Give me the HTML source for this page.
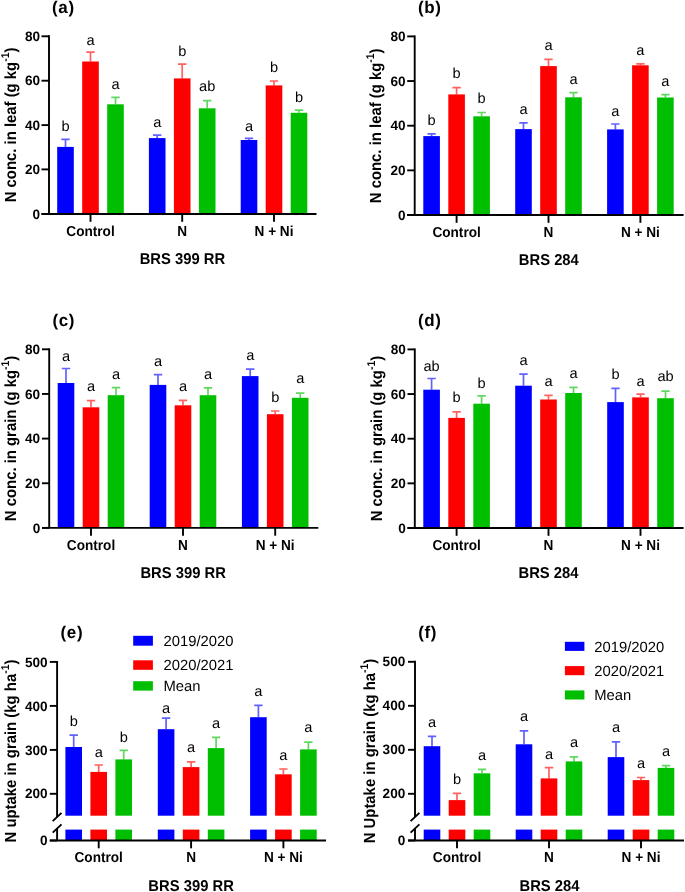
<!DOCTYPE html>
<html><head><meta charset="utf-8"><title>Figure</title>
<style>
html,body{margin:0;padding:0;background:#fff;}
body{width:685px;height:892px;overflow:hidden;}
svg{display:block;}
text{font-family:'Liberation Sans', Arial, sans-serif;fill:#000;text-rendering:geometricPrecision;}
.ax{stroke:#000;stroke-width:1.9;fill:none;stroke-linecap:butt;}
.let{font-size:14.6px;text-anchor:middle;}
.tk{font-size:13.6px;font-weight:bold;text-anchor:end;}
.xl{font-size:13.6px;font-weight:bold;text-anchor:middle;}
.sub{font-size:14.8px;font-weight:bold;text-anchor:middle;}
.ttl{font-size:17.0px;font-weight:bold;letter-spacing:0.6px;}
.yl{font-size:15.0px;font-weight:bold;text-anchor:middle;text-rendering:geometricPrecision;}
.sup{font-size:10.5px;}
.lg{font-size:14.8px;}
</style></head>
<body><svg width="685" height="892" viewBox="0 0 685 892">
<rect width="685" height="892" fill="#fff"/>
<g>
<rect x="57.2" y="146.9" width="16.6" height="67.1" fill="#0000ff"/>
<path d="M65.5 146.9V139.3M61.3 139.3H69.7" stroke="#0000ff" stroke-width="1.7" stroke-opacity="0.62" fill="none"/>
<text x="65.5" y="131" class="let">b</text>
<rect x="82.2" y="61.5" width="16.6" height="152.5" fill="#ff0000"/>
<path d="M90.5 61.5V52.2M86.3 52.2H94.7" stroke="#ff0000" stroke-width="1.7" stroke-opacity="0.62" fill="none"/>
<text x="90.5" y="44.6" class="let">a</text>
<rect x="107.2" y="104.3" width="16.6" height="109.7" fill="#00bf00"/>
<path d="M115.5 104.3V97.3M111.3 97.3H119.7" stroke="#00bf00" stroke-width="1.7" stroke-opacity="0.62" fill="none"/>
<text x="115.5" y="88.6" class="let">a</text>
<rect x="148.9" y="138.1" width="16.6" height="75.9" fill="#0000ff"/>
<path d="M157.2 138.1V135.2M153 135.2H161.4" stroke="#0000ff" stroke-width="1.7" stroke-opacity="0.62" fill="none"/>
<text x="157.2" y="126.9" class="let">a</text>
<rect x="173.9" y="78.4" width="16.6" height="135.6" fill="#ff0000"/>
<path d="M182.2 78.4V64.2M178 64.2H186.4" stroke="#ff0000" stroke-width="1.7" stroke-opacity="0.62" fill="none"/>
<text x="182.2" y="55.9" class="let">b</text>
<rect x="198.9" y="108.3" width="16.6" height="105.7" fill="#00bf00"/>
<path d="M207.2 108.3V100.7M203 100.7H211.4" stroke="#00bf00" stroke-width="1.7" stroke-opacity="0.62" fill="none"/>
<text x="207.2" y="90.9" class="let">ab</text>
<rect x="240.7" y="140" width="16.6" height="74" fill="#0000ff"/>
<path d="M249 140V138.3M244.8 138.3H253.2" stroke="#0000ff" stroke-width="1.7" stroke-opacity="0.62" fill="none"/>
<text x="249" y="131.3" class="let">a</text>
<rect x="265.7" y="85.4" width="16.6" height="128.6" fill="#ff0000"/>
<path d="M274 85.4V81M269.8 81H278.2" stroke="#ff0000" stroke-width="1.7" stroke-opacity="0.62" fill="none"/>
<text x="274" y="72" class="let">b</text>
<rect x="290.7" y="112.8" width="16.6" height="101.2" fill="#00bf00"/>
<path d="M299 112.8V110.2M294.8 110.2H303.2" stroke="#00bf00" stroke-width="1.7" stroke-opacity="0.62" fill="none"/>
<text x="299" y="101.7" class="let">b</text>
<path d="M49 35.35V214" class="ax"/>
<path d="M41.5 214H316.5" class="ax"/>
<path d="M41.5 36.3H49" class="ax"/>
<text x="40" y="40.9" class="tk">80</text>
<path d="M41.5 80.7H49" class="ax"/>
<text x="40" y="85.3" class="tk">60</text>
<path d="M41.5 125.1H49" class="ax"/>
<text x="40" y="129.7" class="tk">40</text>
<path d="M41.5 169.4H49" class="ax"/>
<text x="40" y="174" class="tk">20</text>
<path d="M41.5 214H49" class="ax"/>
<text x="40" y="218.6" class="tk">0</text>
<path d="M90.5 214V221.8" class="ax"/>
<text transform="translate(90.5 235.8) scale(1 1.06)" class="xl">Control</text>
<path d="M182.2 214V221.8" class="ax"/>
<text transform="translate(182.2 235.8) scale(1 1.06)" class="xl">N</text>
<path d="M274 214V221.8" class="ax"/>
<text transform="translate(274 235.8) scale(1 1.06)" class="xl">N + Ni</text>
<text transform="translate(182.4 263.7) scale(1 1.06)" class="sub">BRS 399 RR</text>
<text x="52.1" y="12.7" class="ttl">(a)</text>
<text transform="translate(15.8 124.95) rotate(-90) scale(0.992 1.07)" x="0" y="0" class="yl">N conc. in leaf (g kg<tspan class="sup" dy="-6.3">-1</tspan><tspan dy="6.3">)</tspan></text>
</g>
<g>
<rect x="423.3" y="136.1" width="16.6" height="78.9" fill="#0000ff"/>
<path d="M431.6 136.1V133.9M427.4 133.9H435.8" stroke="#0000ff" stroke-width="1.7" stroke-opacity="0.62" fill="none"/>
<text x="431.6" y="124.7" class="let">b</text>
<rect x="448.3" y="94.4" width="16.6" height="120.6" fill="#ff0000"/>
<path d="M456.6 94.4V87.6M452.4 87.6H460.8" stroke="#ff0000" stroke-width="1.7" stroke-opacity="0.62" fill="none"/>
<text x="456.6" y="77.8" class="let">b</text>
<rect x="473.3" y="116.3" width="16.6" height="98.7" fill="#00bf00"/>
<path d="M481.6 116.3V112.5M477.4 112.5H485.8" stroke="#00bf00" stroke-width="1.7" stroke-opacity="0.62" fill="none"/>
<text x="481.6" y="102.9" class="let">b</text>
<rect x="515.2" y="129.1" width="16.6" height="85.9" fill="#0000ff"/>
<path d="M523.5 129.1V122.8M519.3 122.8H527.7" stroke="#0000ff" stroke-width="1.7" stroke-opacity="0.62" fill="none"/>
<text x="523.5" y="114.2" class="let">a</text>
<rect x="540.2" y="66.1" width="16.6" height="148.9" fill="#ff0000"/>
<path d="M548.5 66.1V59.4M544.3 59.4H552.7" stroke="#ff0000" stroke-width="1.7" stroke-opacity="0.62" fill="none"/>
<text x="548.5" y="50.4" class="let">a</text>
<rect x="565.2" y="97.3" width="16.6" height="117.7" fill="#00bf00"/>
<path d="M573.5 97.3V92.7M569.3 92.7H577.7" stroke="#00bf00" stroke-width="1.7" stroke-opacity="0.62" fill="none"/>
<text x="573.5" y="83.9" class="let">a</text>
<rect x="607.1" y="129.4" width="16.6" height="85.6" fill="#0000ff"/>
<path d="M615.4 129.4V124M611.2 124H619.6" stroke="#0000ff" stroke-width="1.7" stroke-opacity="0.62" fill="none"/>
<text x="615.4" y="115.7" class="let">a</text>
<rect x="632.1" y="65.3" width="16.6" height="149.7" fill="#ff0000"/>
<path d="M640.4 65.3V63.8M636.2 63.8H644.6" stroke="#ff0000" stroke-width="1.7" stroke-opacity="0.62" fill="none"/>
<text x="640.4" y="54.5" class="let">a</text>
<rect x="657.1" y="97.5" width="16.6" height="117.5" fill="#00bf00"/>
<path d="M665.4 97.5V94.6M661.2 94.6H669.6" stroke="#00bf00" stroke-width="1.7" stroke-opacity="0.62" fill="none"/>
<text x="665.4" y="85.7" class="let">a</text>
<path d="M414.7 35.45V215" class="ax"/>
<path d="M407.2 215H683.6" class="ax"/>
<path d="M407.2 36.4H414.7" class="ax"/>
<text x="405.6" y="41" class="tk">80</text>
<path d="M407.2 81.05H414.7" class="ax"/>
<text x="405.6" y="85.65" class="tk">60</text>
<path d="M407.2 125.7H414.7" class="ax"/>
<text x="405.6" y="130.3" class="tk">40</text>
<path d="M407.2 170.35H414.7" class="ax"/>
<text x="405.6" y="174.95" class="tk">20</text>
<path d="M407.2 215H414.7" class="ax"/>
<text x="405.6" y="219.6" class="tk">0</text>
<path d="M456.6 215V222.8" class="ax"/>
<text transform="translate(456.6 237) scale(1 1.06)" class="xl">Control</text>
<path d="M548.5 215V222.8" class="ax"/>
<text transform="translate(548.5 237) scale(1 1.06)" class="xl">N</text>
<path d="M640.4 215V222.8" class="ax"/>
<text transform="translate(640.4 237) scale(1 1.06)" class="xl">N + Ni</text>
<text transform="translate(548.8 265) scale(1 1.06)" class="sub">BRS 284</text>
<text x="417.9" y="12.7" class="ttl">(b)</text>
<text transform="translate(381.2 125.85) rotate(-90) scale(0.992 1.07)" x="0" y="0" class="yl">N conc. in leaf (g kg<tspan class="sup" dy="-6.3">-1</tspan><tspan dy="6.3">)</tspan></text>
</g>
<g>
<rect x="57.7" y="383" width="16.6" height="144.9" fill="#0000ff"/>
<path d="M66 383V368.5M61.8 368.5H70.2" stroke="#0000ff" stroke-width="1.7" stroke-opacity="0.62" fill="none"/>
<text x="66" y="360.8" class="let">a</text>
<rect x="82.7" y="407.3" width="16.6" height="120.6" fill="#ff0000"/>
<path d="M91 407.3V400.7M86.8 400.7H95.2" stroke="#ff0000" stroke-width="1.7" stroke-opacity="0.62" fill="none"/>
<text x="91" y="391.2" class="let">a</text>
<rect x="107.7" y="395.2" width="16.6" height="132.7" fill="#00bf00"/>
<path d="M116 395.2V387.6M111.8 387.6H120.2" stroke="#00bf00" stroke-width="1.7" stroke-opacity="0.62" fill="none"/>
<text x="116" y="379" class="let">a</text>
<rect x="149.7" y="384.9" width="16.6" height="143" fill="#0000ff"/>
<path d="M158 384.9V374.6M153.8 374.6H162.2" stroke="#0000ff" stroke-width="1.7" stroke-opacity="0.62" fill="none"/>
<text x="158" y="365.6" class="let">a</text>
<rect x="174.7" y="405.3" width="16.6" height="122.6" fill="#ff0000"/>
<path d="M183 405.3V400.4M178.8 400.4H187.2" stroke="#ff0000" stroke-width="1.7" stroke-opacity="0.62" fill="none"/>
<text x="183" y="391.2" class="let">a</text>
<rect x="199.7" y="395.2" width="16.6" height="132.7" fill="#00bf00"/>
<path d="M208 395.2V387.8M203.8 387.8H212.2" stroke="#00bf00" stroke-width="1.7" stroke-opacity="0.62" fill="none"/>
<text x="208" y="379" class="let">a</text>
<rect x="241.9" y="376.1" width="16.6" height="151.8" fill="#0000ff"/>
<path d="M250.2 376.1V369.2M246 369.2H254.4" stroke="#0000ff" stroke-width="1.7" stroke-opacity="0.62" fill="none"/>
<text x="250.2" y="360.1" class="let">a</text>
<rect x="266.9" y="414.2" width="16.6" height="113.7" fill="#ff0000"/>
<path d="M275.2 414.2V411M271 411H279.4" stroke="#ff0000" stroke-width="1.7" stroke-opacity="0.62" fill="none"/>
<text x="275.2" y="401.8" class="let">b</text>
<rect x="291.9" y="397.8" width="16.6" height="130.1" fill="#00bf00"/>
<path d="M300.2 397.8V393.2M296 393.2H304.4" stroke="#00bf00" stroke-width="1.7" stroke-opacity="0.62" fill="none"/>
<text x="300.2" y="383.4" class="let">a</text>
<path d="M49.2 348.35V527.9" class="ax"/>
<path d="M42 527.9H318.3" class="ax"/>
<path d="M42 349.3H49.2" class="ax"/>
<text x="40.2" y="353.9" class="tk">80</text>
<path d="M42 393.95H49.2" class="ax"/>
<text x="40.2" y="398.55" class="tk">60</text>
<path d="M42 438.6H49.2" class="ax"/>
<text x="40.2" y="443.2" class="tk">40</text>
<path d="M42 483.25H49.2" class="ax"/>
<text x="40.2" y="487.85" class="tk">20</text>
<path d="M42 527.9H49.2" class="ax"/>
<text x="40.2" y="532.5" class="tk">0</text>
<path d="M91 527.9V535.7" class="ax"/>
<text transform="translate(91 549.7) scale(1 1.06)" class="xl">Control</text>
<path d="M183 527.9V535.7" class="ax"/>
<text transform="translate(183 549.7) scale(1 1.06)" class="xl">N</text>
<path d="M275.2 527.9V535.7" class="ax"/>
<text transform="translate(275.2 549.7) scale(1 1.06)" class="xl">N + Ni</text>
<text transform="translate(183.2 578) scale(1 1.06)" class="sub">BRS 399 RR</text>
<text x="52.4" y="325.5" class="ttl">(c)</text>
<text transform="translate(16.1 438.45) rotate(-90) scale(0.992 1.07)" x="0" y="0" class="yl">N conc. in grain (g kg<tspan class="sup" dy="-6.3">-1</tspan><tspan dy="6.3">)</tspan></text>
</g>
<g>
<rect x="423.3" y="389.7" width="16.6" height="138.3" fill="#0000ff"/>
<path d="M431.6 389.7V378.5M427.4 378.5H435.8" stroke="#0000ff" stroke-width="1.7" stroke-opacity="0.62" fill="none"/>
<text x="431.6" y="370.9" class="let">ab</text>
<rect x="448.3" y="417.9" width="16.6" height="110.1" fill="#ff0000"/>
<path d="M456.6 417.9V411.9M452.4 411.9H460.8" stroke="#ff0000" stroke-width="1.7" stroke-opacity="0.62" fill="none"/>
<text x="456.6" y="402" class="let">b</text>
<rect x="473.3" y="403.7" width="16.6" height="124.3" fill="#00bf00"/>
<path d="M481.6 403.7V395.8M477.4 395.8H485.8" stroke="#00bf00" stroke-width="1.7" stroke-opacity="0.62" fill="none"/>
<text x="481.6" y="387.6" class="let">b</text>
<rect x="515.2" y="385.7" width="16.6" height="142.3" fill="#0000ff"/>
<path d="M523.5 385.7V374.2M519.3 374.2H527.7" stroke="#0000ff" stroke-width="1.7" stroke-opacity="0.62" fill="none"/>
<text x="523.5" y="365.2" class="let">a</text>
<rect x="540.2" y="399.5" width="16.6" height="128.5" fill="#ff0000"/>
<path d="M548.5 399.5V395.4M544.3 395.4H552.7" stroke="#ff0000" stroke-width="1.7" stroke-opacity="0.62" fill="none"/>
<text x="548.5" y="386" class="let">a</text>
<rect x="565.2" y="393" width="16.6" height="135" fill="#00bf00"/>
<path d="M573.5 393V387.3M569.3 387.3H577.7" stroke="#00bf00" stroke-width="1.7" stroke-opacity="0.62" fill="none"/>
<text x="573.5" y="378.1" class="let">a</text>
<rect x="607.2" y="402.1" width="16.6" height="125.9" fill="#0000ff"/>
<path d="M615.5 402.1V388.4M611.3 388.4H619.7" stroke="#0000ff" stroke-width="1.7" stroke-opacity="0.62" fill="none"/>
<text x="615.5" y="379" class="let">b</text>
<rect x="632.2" y="397.4" width="16.6" height="130.6" fill="#ff0000"/>
<path d="M640.5 397.4V394.1M636.3 394.1H644.7" stroke="#ff0000" stroke-width="1.7" stroke-opacity="0.62" fill="none"/>
<text x="640.5" y="385.6" class="let">a</text>
<rect x="657.2" y="398.2" width="16.6" height="129.8" fill="#00bf00"/>
<path d="M665.5 398.2V391.2M661.3 391.2H669.7" stroke="#00bf00" stroke-width="1.7" stroke-opacity="0.62" fill="none"/>
<text x="665.5" y="381" class="let">ab</text>
<path d="M414.8 348.45V528" class="ax"/>
<path d="M407.5 528H683.6" class="ax"/>
<path d="M407.5 349.4H414.8" class="ax"/>
<text x="405.8" y="354" class="tk">80</text>
<path d="M407.5 394.05H414.8" class="ax"/>
<text x="405.8" y="398.65" class="tk">60</text>
<path d="M407.5 438.7H414.8" class="ax"/>
<text x="405.8" y="443.3" class="tk">40</text>
<path d="M407.5 483.35H414.8" class="ax"/>
<text x="405.8" y="487.95" class="tk">20</text>
<path d="M407.5 528H414.8" class="ax"/>
<text x="405.8" y="532.6" class="tk">0</text>
<path d="M456.6 528V535.8" class="ax"/>
<text transform="translate(456.6 549.7) scale(1 1.06)" class="xl">Control</text>
<path d="M548.5 528V535.8" class="ax"/>
<text transform="translate(548.5 549.7) scale(1 1.06)" class="xl">N</text>
<path d="M640.5 528V535.8" class="ax"/>
<text transform="translate(640.5 549.7) scale(1 1.06)" class="xl">N + Ni</text>
<text transform="translate(548.5 578) scale(1 1.06)" class="sub">BRS 284</text>
<text x="417.9" y="325.5" class="ttl">(d)</text>
<text transform="translate(382 438.6) rotate(-90) scale(0.992 1.07)" x="0" y="0" class="yl">N conc. in grain (g kg<tspan class="sup" dy="-6.3">-1</tspan><tspan dy="6.3">)</tspan></text>
</g>
<g>
<rect x="65.4" y="747" width="16.6" height="68.7" fill="#0000ff"/>
<rect x="65.4" y="829.6" width="16.6" height="10.9" fill="#0000ff"/>
<path d="M73.7 747V735.2M69.5 735.2H77.9" stroke="#0000ff" stroke-width="1.7" stroke-opacity="0.62" fill="none"/>
<text x="73.7" y="726.3" class="let">b</text>
<rect x="90.4" y="771.9" width="16.6" height="43.8" fill="#ff0000"/>
<rect x="90.4" y="829.6" width="16.6" height="10.9" fill="#ff0000"/>
<path d="M98.7 771.9V765M94.5 765H102.9" stroke="#ff0000" stroke-width="1.7" stroke-opacity="0.62" fill="none"/>
<text x="98.7" y="756.8" class="let">a</text>
<rect x="115.4" y="759.4" width="16.6" height="56.3" fill="#00bf00"/>
<rect x="115.4" y="829.6" width="16.6" height="10.9" fill="#00bf00"/>
<path d="M123.7 759.4V750.3M119.5 750.3H127.9" stroke="#00bf00" stroke-width="1.7" stroke-opacity="0.62" fill="none"/>
<text x="123.7" y="742.3" class="let">b</text>
<rect x="157.8" y="729.2" width="16.6" height="86.5" fill="#0000ff"/>
<rect x="157.8" y="829.6" width="16.6" height="10.9" fill="#0000ff"/>
<path d="M166.1 729.2V718.2M161.9 718.2H170.3" stroke="#0000ff" stroke-width="1.7" stroke-opacity="0.62" fill="none"/>
<text x="166.1" y="712.6" class="let">a</text>
<rect x="182.8" y="767.1" width="16.6" height="48.6" fill="#ff0000"/>
<rect x="182.8" y="829.6" width="16.6" height="10.9" fill="#ff0000"/>
<path d="M191.1 767.1V761.9M186.9 761.9H195.3" stroke="#ff0000" stroke-width="1.7" stroke-opacity="0.62" fill="none"/>
<text x="191.1" y="752" class="let">a</text>
<rect x="207.8" y="748.1" width="16.6" height="67.6" fill="#00bf00"/>
<rect x="207.8" y="829.6" width="16.6" height="10.9" fill="#00bf00"/>
<path d="M216.1 748.1V737.3M211.9 737.3H220.3" stroke="#00bf00" stroke-width="1.7" stroke-opacity="0.62" fill="none"/>
<text x="216.1" y="728.1" class="let">a</text>
<rect x="250.1" y="717.2" width="16.6" height="98.5" fill="#0000ff"/>
<rect x="250.1" y="829.6" width="16.6" height="10.9" fill="#0000ff"/>
<path d="M258.4 717.2V705.4M254.2 705.4H262.6" stroke="#0000ff" stroke-width="1.7" stroke-opacity="0.62" fill="none"/>
<text x="258.4" y="696.4" class="let">a</text>
<rect x="275.1" y="774.3" width="16.6" height="41.4" fill="#ff0000"/>
<rect x="275.1" y="829.6" width="16.6" height="10.9" fill="#ff0000"/>
<path d="M283.4 774.3V769M279.2 769H287.6" stroke="#ff0000" stroke-width="1.7" stroke-opacity="0.62" fill="none"/>
<text x="283.4" y="760.4" class="let">a</text>
<rect x="300.1" y="749.4" width="16.6" height="66.3" fill="#00bf00"/>
<rect x="300.1" y="829.6" width="16.6" height="10.9" fill="#00bf00"/>
<path d="M308.4 749.4V742.1M304.2 742.1H312.6" stroke="#00bf00" stroke-width="1.7" stroke-opacity="0.62" fill="none"/>
<text x="308.4" y="732.2" class="let">a</text>
<path d="M57.1 660.95V817M57.1 828.4V840.5" class="ax"/>
<path d="M52.7 821.1L61.5 812.9M52.7 832.6L61.5 824.4" class="ax"/>
<path d="M49.8 840.5H326" class="ax"/>
<path d="M49.8 661.9H57.1" class="ax"/>
<text x="47.6" y="666.5" class="tk">500</text>
<path d="M49.8 705.9H57.1" class="ax"/>
<text x="47.6" y="710.5" class="tk">400</text>
<path d="M49.8 749.9H57.1" class="ax"/>
<text x="47.6" y="754.5" class="tk">300</text>
<path d="M49.8 793.8H57.1" class="ax"/>
<text x="47.6" y="798.4" class="tk">200</text>
<path d="M49.8 840.5H57.1" class="ax"/>
<text x="47.6" y="845.1" class="tk">0</text>
<path d="M98.7 840.5V848.3" class="ax"/>
<text transform="translate(98.7 862.3) scale(1 1.06)" class="xl">Control</text>
<path d="M191.1 840.5V848.3" class="ax"/>
<text transform="translate(191.1 862.3) scale(1 1.06)" class="xl">N</text>
<path d="M283.4 840.5V848.3" class="ax"/>
<text transform="translate(283.4 862.3) scale(1 1.06)" class="xl">N + Ni</text>
<text transform="translate(191.1 890.7) scale(1 1.06)" class="sub">BRS 399 RR</text>
<text x="60.6" y="638.2" class="ttl">(e)</text>
<text transform="translate(16.1 751.05) rotate(-90) scale(0.992 1.07)" x="0" y="0" class="yl">N uptake in grain (kg ha<tspan class="sup" dy="-6.3">-1</tspan><tspan dy="6.3">)</tspan></text>
<rect x="133.2" y="635.8" width="19.7" height="9.9" fill="#0000ff"/>
<text x="163.5" y="645.9" class="lg">2019/2020</text>
<rect x="133.2" y="660.3" width="19.7" height="9.5" fill="#ff0000"/>
<text x="163.5" y="670.2" class="lg">2020/2021</text>
<rect x="133.2" y="681.2" width="19.7" height="9.4" fill="#00bf00"/>
<text x="163.5" y="690.6" class="lg">Mean</text>
</g>
<g>
<rect x="423.7" y="746.2" width="16.6" height="69.5" fill="#0000ff"/>
<rect x="423.7" y="829.6" width="16.6" height="10.9" fill="#0000ff"/>
<path d="M432 746.2V736.4M427.8 736.4H436.2" stroke="#0000ff" stroke-width="1.7" stroke-opacity="0.62" fill="none"/>
<text x="432" y="727.2" class="let">a</text>
<rect x="448.7" y="800.1" width="16.6" height="15.6" fill="#ff0000"/>
<rect x="448.7" y="829.6" width="16.6" height="10.9" fill="#ff0000"/>
<path d="M457 800.1V793.3M452.8 793.3H461.2" stroke="#ff0000" stroke-width="1.7" stroke-opacity="0.62" fill="none"/>
<text x="457" y="783.7" class="let">b</text>
<rect x="473.7" y="773.3" width="16.6" height="42.4" fill="#00bf00"/>
<rect x="473.7" y="829.6" width="16.6" height="10.9" fill="#00bf00"/>
<path d="M482 773.3V769.4M477.8 769.4H486.2" stroke="#00bf00" stroke-width="1.7" stroke-opacity="0.62" fill="none"/>
<text x="482" y="760.4" class="let">a</text>
<rect x="515.7" y="744.3" width="16.6" height="71.4" fill="#0000ff"/>
<rect x="515.7" y="829.6" width="16.6" height="10.9" fill="#0000ff"/>
<path d="M524 744.3V730.9M519.8 730.9H528.2" stroke="#0000ff" stroke-width="1.7" stroke-opacity="0.62" fill="none"/>
<text x="524" y="721" class="let">a</text>
<rect x="540.7" y="778.4" width="16.6" height="37.3" fill="#ff0000"/>
<rect x="540.7" y="829.6" width="16.6" height="10.9" fill="#ff0000"/>
<path d="M549 778.4V767.7M544.8 767.7H553.2" stroke="#ff0000" stroke-width="1.7" stroke-opacity="0.62" fill="none"/>
<text x="549" y="758.5" class="let">a</text>
<rect x="565.7" y="761.4" width="16.6" height="54.3" fill="#00bf00"/>
<rect x="565.7" y="829.6" width="16.6" height="10.9" fill="#00bf00"/>
<path d="M574 761.4V756.8M569.8 756.8H578.2" stroke="#00bf00" stroke-width="1.7" stroke-opacity="0.62" fill="none"/>
<text x="574" y="747" class="let">a</text>
<rect x="607.7" y="757.1" width="16.6" height="58.6" fill="#0000ff"/>
<rect x="607.7" y="829.6" width="16.6" height="10.9" fill="#0000ff"/>
<path d="M616 757.1V741.8M611.8 741.8H620.2" stroke="#0000ff" stroke-width="1.7" stroke-opacity="0.62" fill="none"/>
<text x="616" y="732.2" class="let">a</text>
<rect x="632.7" y="780.1" width="16.6" height="35.6" fill="#ff0000"/>
<rect x="632.7" y="829.6" width="16.6" height="10.9" fill="#ff0000"/>
<path d="M641 780.1V777.5M636.8 777.5H645.2" stroke="#ff0000" stroke-width="1.7" stroke-opacity="0.62" fill="none"/>
<text x="641" y="767.9" class="let">a</text>
<rect x="657.7" y="767.9" width="16.6" height="47.8" fill="#00bf00"/>
<rect x="657.7" y="829.6" width="16.6" height="10.9" fill="#00bf00"/>
<path d="M666 767.9V765.6M661.8 765.6H670.2" stroke="#00bf00" stroke-width="1.7" stroke-opacity="0.62" fill="none"/>
<text x="666" y="755.8" class="let">a</text>
<path d="M415 660.85V817M415 828.4V840.5" class="ax"/>
<path d="M410.6 821.1L419.4 812.9M410.6 832.6L419.4 824.4" class="ax"/>
<path d="M408 840.5H684" class="ax"/>
<path d="M408 661.8H415" class="ax"/>
<text x="405.3" y="666.4" class="tk">500</text>
<path d="M408 705.8H415" class="ax"/>
<text x="405.3" y="710.4" class="tk">400</text>
<path d="M408 749.8H415" class="ax"/>
<text x="405.3" y="754.4" class="tk">300</text>
<path d="M408 793.8H415" class="ax"/>
<text x="405.3" y="798.4" class="tk">200</text>
<path d="M408 840.5H415" class="ax"/>
<text x="405.3" y="845.1" class="tk">0</text>
<path d="M457 840.5V848.3" class="ax"/>
<text transform="translate(457 862.3) scale(1 1.06)" class="xl">Control</text>
<path d="M549 840.5V848.3" class="ax"/>
<text transform="translate(549 862.3) scale(1 1.06)" class="xl">N</text>
<path d="M641 840.5V848.3" class="ax"/>
<text transform="translate(641 862.3) scale(1 1.06)" class="xl">N + Ni</text>
<text transform="translate(549.5 890.7) scale(1 1.06)" class="sub">BRS 284</text>
<text x="418.2" y="638.2" class="ttl">(f)</text>
<text transform="translate(375.1 751.05) rotate(-90) scale(0.992 1.07)" x="0" y="0" class="yl">N Uptake in grain (kg ha<tspan class="sup" dy="-6.3">-1</tspan><tspan dy="6.3">)</tspan></text>
<rect x="564.9" y="641.8" width="19.5" height="9.1" fill="#0000ff"/>
<text x="594.3" y="651.5" class="lg">2019/2020</text>
<rect x="564.9" y="666.1" width="19.5" height="9.1" fill="#ff0000"/>
<text x="594.3" y="675.8" class="lg">2020/2021</text>
<rect x="564.9" y="690.4" width="19.5" height="9.1" fill="#00bf00"/>
<text x="594.3" y="700" class="lg">Mean</text>
</g>
</svg></body></html>
